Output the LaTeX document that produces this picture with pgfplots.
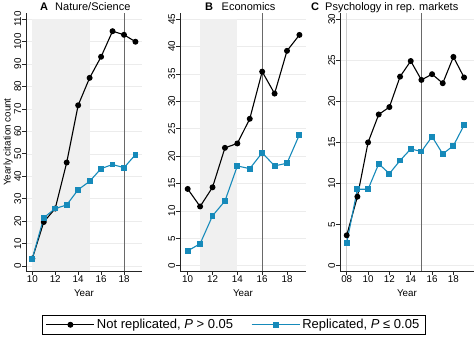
\documentclass[border=0pt]{standalone}
\usepackage{pgfplots}
\pgfplotsset{compat=1.18}
\usepackage{fontspec}
\setmainfont{Liberation Sans}
\definecolor{rblue}{RGB}{22,138,186}
\definecolor{shade}{RGB}{240,240,240}
\definecolor{vline}{RGB}{105,105,105}
\definecolor{gridc}{RGB}{236,236,236}
\definecolor{lline}{RGB}{205,205,205}

\pgfplotsset{
  panel/.style={
    scale only axis, height=258pt,
    axis x line*=bottom, axis y line*=left,
    axis line style={-, black!85, line width=0.6pt},
    tick align=outside, major tick length=4pt,
    tick style={black!85, line width=0.6pt},
    ymajorgrids, grid style={gridc, line width=0.5pt},
    /pgf/number format/assume math mode=true,
    tick label style={font=\fontsize{9.8}{11}\selectfont},
    yticklabel style={rotate=90, anchor=south, inner sep=0.6pt},
    xticklabel style={inner sep=0.8pt},
    xlabel={Year},
    every axis x label/.style={at={(axis description cs:0.5,-0.097)}, anchor=base, font=\fontsize{9.8}{11}\selectfont},
    legend image code/.code={\draw[mark repeat=2,mark phase=2,##1] plot coordinates {(0pt,0pt) (24pt,0pt) (48pt,0pt)};},
  },
  blk/.style={black, line width=1.1pt, mark=*, mark size=2.4pt, mark options={solid}},
  blu/.style={rblue, line width=1.1pt, mark=square*, mark size=2.4pt, mark options={solid}},
}

\begin{document}
\begin{tikzpicture}
\path[use as bounding box] (0pt,0pt) rectangle (474pt,-338pt);

% Panel A
\begin{axis}[panel, at={(26pt,-271pt)}, anchor=south west, width=116pt,
  xmin=9.45, xmax=19.57, ymin=-2.23, ymax=112.7,
  xtick={10,12,14,16,18}, ytick={0,10,...,110},
  ylabel={Yearly citation count},
  every axis y label/.style={at={(axis description cs:-0.155,0.5)}, rotate=90, anchor=center, font=\fontsize{9.8}{11}\selectfont},
]
\addplot[draw=none, fill=shade, forget plot] coordinates {(10,-2.23) (15,-2.23) (15,110) (10,110)} --cycle;
\addplot[vline, line width=0.8pt, forget plot] coordinates {(18,-2.23) (18,112.7)};
\addplot[blk] coordinates {(10,3.3) (11,19.6) (12,25.6) (13,46.1) (14,71.6) (15,83.8) (16,93.2) (17,104.6) (18,103) (19,99.9)};
\addplot[blu] coordinates {(10,3.3) (11,21.5) (12,25.6) (13,27.2) (14,34) (15,37.7) (16,43.4) (17,45.2) (18,43.8) (19,49.6)};
\end{axis}

% Panel B
\begin{axis}[panel, at={(180pt,-271pt)}, anchor=south west, width=126pt,
  xmin=9.38, xmax=19.53, ymin=-0.97, ymax=46.1,
  xtick={10,12,14,16,18}, ytick={0,5,...,45},
  legend columns=2,
  legend style={at={(0.425,-0.1705)}, anchor=north, draw=black, line width=0.6pt,
    font=\fontsize{13}{15}\selectfont, inner xsep=4pt, inner ysep=2pt,
    /tikz/every even column/.append style={column sep=16pt}},
]
\addplot[draw=none, fill=shade, forget plot] coordinates {(11,-0.97) (14,-0.97) (14,45) (11,45)} --cycle;
\addplot[vline, line width=0.8pt, forget plot] coordinates {(16,-0.97) (16,46.1)};
\addplot[blk] coordinates {(10,14.0) (11,10.8) (12,14.3) (13,21.5) (14,22.3) (15,26.8) (16,35.4) (17,31.4) (18,39.2) (19,42.1)};
\addlegendentry{Not replicated, \textit{P} > 0.05}
\addplot[blu] coordinates {(10,2.7) (11,4.0) (12,9.1) (13,11.8) (14,18.2) (15,17.7) (16,20.6) (17,18.2) (18,18.7) (19,23.9)};
\addlegendentry{Replicated, \textit{P} ≤ 0.05}
\end{axis}

% Panel C
\begin{axis}[panel, at={(340pt,-271pt)}, anchor=south west, width=134pt,
  xmin=7.37, xmax=19.93, ymin=-0.64, ymax=30.74,
  xtick={8,10,12,14,16,18}, xticklabels={08,10,12,14,16,18}, ytick={0,5,...,30},
]
\addplot[lline, line width=0.8pt, forget plot] coordinates {(8,-0.64) (8,30.74)};
\addplot[vline, line width=0.8pt, forget plot] coordinates {(15,-0.64) (15,30.74)};
\addplot[blk] coordinates {(8,3.7) (9,8.4) (10,15.0) (11,18.4) (12,19.3) (13,23.0) (14,24.9) (15,22.6) (16,23.3) (17,22.2) (18,25.4) (19,22.9)};
\addplot[blu] coordinates {(8,2.8) (9,9.3) (10,9.3) (11,12.4) (12,11.2) (13,12.8) (14,14.2) (15,13.9) (16,15.7) (17,13.6) (18,14.6) (19,17.1)};
\end{axis}

% Titles
\node[anchor=base west, inner sep=0pt, font=\fontsize{11}{12}\selectfont\bfseries] at (40pt,-10.5pt) {A};
\node[anchor=base west, inner sep=0pt, font=\fontsize{11}{12}\selectfont] at (55pt,-10.5pt) {Nature/Science};
\node[anchor=base west, inner sep=0pt, font=\fontsize{11}{12}\selectfont\bfseries] at (205pt,-10.5pt) {B};
\node[anchor=base west, inner sep=0pt, font=\fontsize{11}{12}\selectfont] at (221.5pt,-10.5pt) {Economics};
\node[anchor=base west, inner sep=0pt, font=\fontsize{11}{12}\selectfont\bfseries] at (311pt,-10.5pt) {C};
\node[anchor=base west, inner sep=0pt, font=\fontsize{11}{12}\selectfont] at (325pt,-10.5pt) {Psychology in rep. markets};
\end{tikzpicture}
\end{document}
